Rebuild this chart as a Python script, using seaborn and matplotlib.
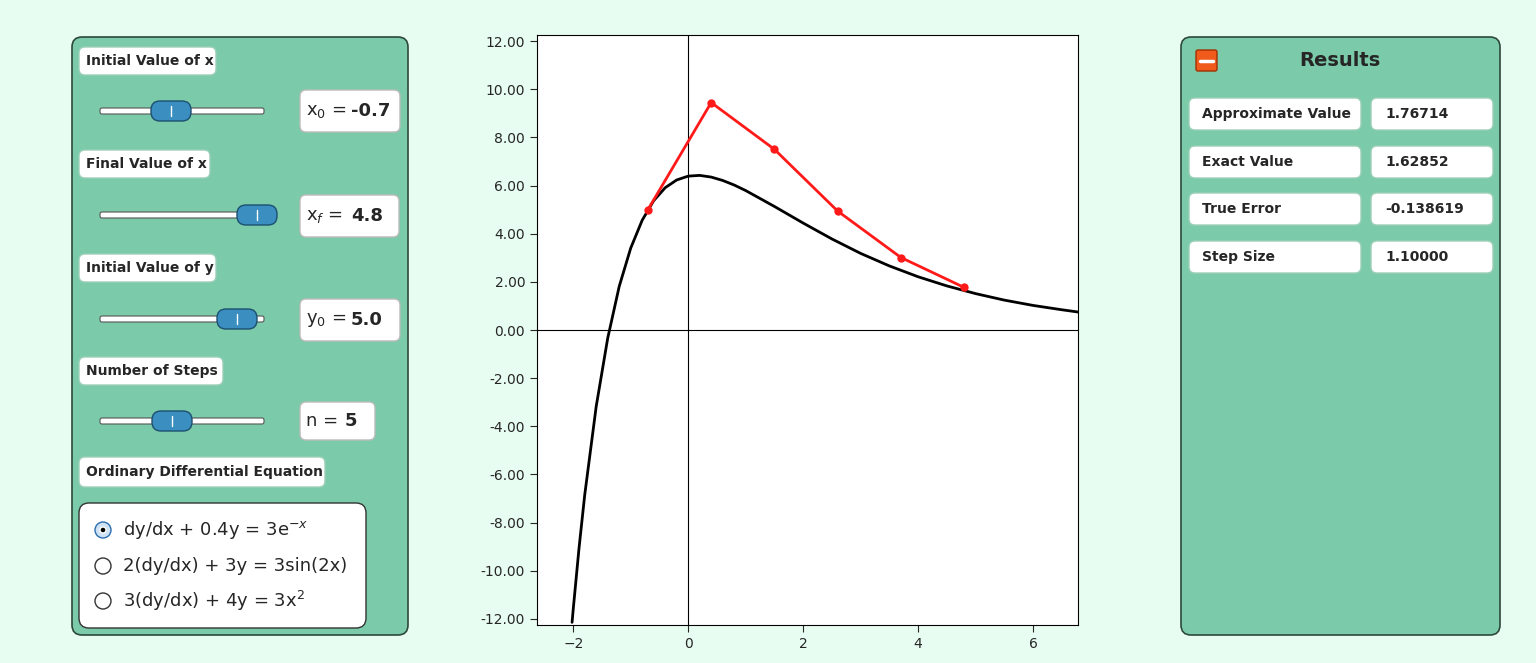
import numpy as np
import pandas as pd
import matplotlib
matplotlib.use("Agg")
import matplotlib.pyplot as plt
import seaborn as sns
from matplotlib.patches import FancyBboxPatch, Circle

# exact solution of dy/dx + 0.4y = 3e^-x, y(-0.7)=5
exact_x = [-2.02, -2.0, -1.9, -1.8, -1.6, -1.4, -1.2, -1.0, -0.8, -0.6, -0.4, -0.2, 0.0,
           0.2, 0.4, 0.6, 0.8, 1.0, 1.5, 2.0, 2.5, 3.0, 3.5, 4.0, 4.5, 5.0, 5.5, 6.0, 6.5, 6.8]
exact_y = [-12.14, -11.60, -9.08, -6.85, -3.17, -0.34, 1.81, 3.40, 4.56, 5.37, 5.91, 6.23, 6.39,
           6.42, 6.35, 6.21, 6.02, 5.79, 5.13, 4.44, 3.78, 3.18, 2.66, 2.21, 1.83, 1.51, 1.24, 1.02, 0.84, 0.74]

# Euler approximation points
euler_x = [-0.7, 0.4, 1.5, 2.6, 3.7, 4.8]
euler_y = [5.0, 9.445, 7.501, 4.937, 3.010, 1.767]

results_labels = ["Approximate Value", "Exact Value", "True Error", "Step Size"]
results_values = ["1.76714", "1.62852", "-0.138619", "1.10000"]

sns.set_style("white")
plt.rcParams['font.family'] = ['DejaVu Sans']

BG = "#e8fdf1"
PANEL = "#7bcbaa"
EDGE = "#2d4a3c"
KNOB = "#3a8fc0"

fig = plt.figure(figsize=(15.36, 6.63), dpi=100, facecolor=BG)
ov = fig.add_axes([0, 0, 1, 1])
ov.set_xlim(0, 1536)
ov.set_ylim(663, 0)
ov.axis("off")


def rbox(x0, y0, x1, y1, fc="white", ec="#cccccc", r=6, lw=1.0):
    ov.add_patch(FancyBboxPatch((x0, y0), x1 - x0, y1 - y0,
                                boxstyle=f"round,pad=0,rounding_size={r}",
                                fc=fc, ec=ec, lw=lw))


# left panel
rbox(72, 37, 408, 635, fc=PANEL, ec=EDGE, r=10, lw=1.2)

labels = [("Initial Value of x", 79, 216, 47, 75),
          ("Final Value of x", 79, 210, 150, 178),
          ("Initial Value of y", 79, 216, 254, 282),
          ("Number of Steps", 79, 223, 357, 385),
          ("Ordinary Differential Equation", 79, 325, 457, 487)]
for t, x0, x1, y0, y1 in labels:
    rbox(x0, y0, x1, y1, ec="#9ccfb8")
    ov.text(x0 + 7, (y0 + y1) / 2, t, fontsize=10, fontweight="bold", va="center", ha="left")

sliders = [(111, 171), (215, 257), (319, 237), (421, 172)]
for yc, kx in sliders:
    rbox(100, yc - 3, 264, yc + 3, fc="white", ec="#555555", r=2, lw=0.8)
    rbox(kx - 20, yc - 10, kx + 20, yc + 10, fc=KNOB, ec="#1d4f70", r=9, lw=1)
    ov.plot([kx, kx], [yc - 5, yc + 5], color="white", lw=1)

values = [(300, 400, 90, 132, r"x$_0$ = ", "-0.7"),
          (300, 399, 195, 237, r"x$_f$ = ", "4.8"),
          (300, 400, 299, 341, r"y$_0$ = ", "5.0"),
          (300, 375, 402, 440, "n = ", "5")]
for x0, x1, y0, y1, lab, v in values:
    rbox(x0, y0, x1, y1, ec="#bbbbbb")
    tx = ov.text(x0 + 6, (y0 + y1) / 2, lab, fontsize=13, va="center", ha="left")
    ov.text(x0 + 6 + (45 if lab != "n = " else 39), (y0 + y1) / 2, v, fontsize=13,
            fontweight="bold", va="center", ha="left")

rbox(79, 503, 366, 628, ec="#333333", r=10)
odes = [r"dy/dx + 0.4y = 3e$^{-x}$", "2(dy/dx) + 3y = 3sin(2x)", r"3(dy/dx) + 4y = 3x$^{2}$"]
for i, (t, yc) in enumerate(zip(odes, [530, 566, 601])):
    ov.add_patch(Circle((103, yc), 8, fc="#cfe3f5" if i == 0 else "white",
                        ec="#2a6db0" if i == 0 else "#333333", lw=1))
    if i == 0:
        ov.add_patch(Circle((103, yc), 3, fc="black"))
    ov.text(123, yc, t, fontsize=13, va="center", ha="left")

# right panel
rbox(1181, 37, 1500, 635, fc=PANEL, ec=EDGE, r=10, lw=1.2)
rbox(1196, 50, 1217, 71, fc="#f05a1a", ec="#a03000", r=2)
ov.plot([1200, 1213], [60.5, 60.5], color="white", lw=2.5)
ov.text(1340, 60, "Results", fontsize=14, fontweight="bold", ha="center", va="center")
for lab, v, yc in zip(results_labels, results_values, [114, 162, 209, 257]):
    rbox(1189, yc - 16, 1361, yc + 16, ec="#9ccfb8")
    rbox(1371, yc - 16, 1493, yc + 16, ec="#9ccfb8")
    ov.text(1202, yc, lab, fontsize=10, fontweight="bold", va="center")
    ov.text(1385, yc, v, fontsize=10, fontweight="bold", va="center")

# main chart
ax = fig.add_axes([537 / 1536, 1 - 625 / 663, (1078 - 537) / 1536, (625 - 35) / 663])
ax.set_facecolor("white")
ax.axhline(0, color="black", lw=0.8)
ax.axvline(0, color="black", lw=0.8)
sns.lineplot(data=pd.DataFrame({"x": exact_x, "y": exact_y}), x="x", y="y",
             color="black", lw=2, ax=ax, sort=False)
sns.lineplot(data=pd.DataFrame({"x": euler_x, "y": euler_y}), x="x", y="y",
             color="#ff1a1a", lw=2, marker="o", markersize=6, markeredgewidth=0, ax=ax, sort=False)
ax.set_xlim(-2.63, 6.78)
ax.set_ylim(-12.25, 12.25)
ax.set_xticks([-2, 0, 2, 4, 6])
ax.set_yticks(np.arange(-12, 13, 2))
ax.set_yticklabels([f"{v:.2f}" for v in np.arange(-12, 13, 2)])
ax.tick_params(axis="both", labelsize=10, length=5, direction="out", left=True, bottom=True)
ax.set_xlabel("")
ax.set_ylabel("")
for s in ax.spines.values():
    s.set_color("black")
    s.set_linewidth(0.8)

fig.savefig("out.png", dpi=100, facecolor=BG)
